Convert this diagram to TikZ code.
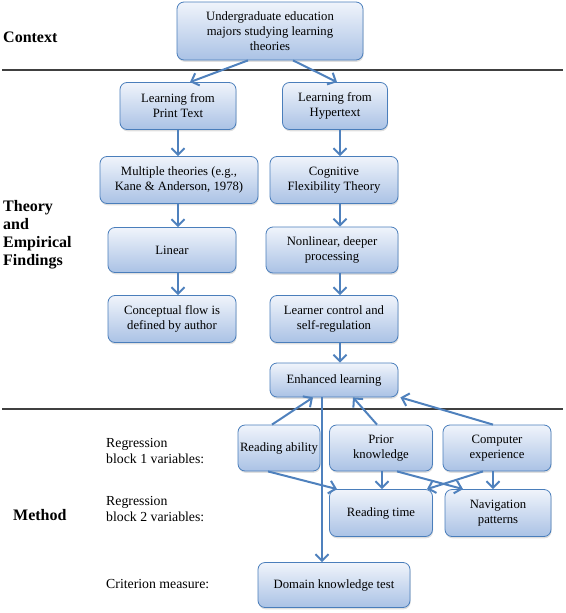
\documentclass[tikz,border=0pt]{standalone}
\usepackage{fontspec}
\setmainfont{Liberation Serif}
\usetikzlibrary{arrows.meta,shadows}
\definecolor{bordc}{HTML}{4A7EBB}
\definecolor{arrc}{HTML}{4F81BD}
\definecolor{topc}{HTML}{F0F4FB}
\definecolor{botc}{HTML}{AAC2E5}
\begin{document}
\begin{tikzpicture}[x=1pt,y=-1pt,
  box/.style={draw=bordc, line width=0.8pt, rounded corners=7pt, top color=topc, bottom color=botc,
    align=center, font=\fontsize{12.7}{15}\selectfont, inner sep=2pt,
    drop shadow={shadow xshift=0.6pt, shadow yshift=-1.8pt, opacity=0.25}},
  sz/.style 2 args={minimum width=#1, minimum height=#2},
  arr/.style={draw=arrc, line width=2pt, -{Straight Barb[length=6.5pt,width=13pt,line width=2pt]}},
  lab/.style={anchor=west, align=left, inner sep=0pt, font=\fontsize{13.8}{16}\selectfont},
  head/.style={anchor=west, align=left, inner sep=0pt, font=\bfseries\fontsize{16}{18}\selectfont},
  sep/.style={draw=black!75, line width=2.5pt}]
\useasboundingbox (0,0) rectangle (565,613);

% separators
\coordinate (l1a) at (2,70); \coordinate (l1b) at (563,70);
\coordinate (l2a) at (2,409); \coordinate (l2b) at (563,409);
\draw[sep] (l1a) -- (l1b);
\draw[sep] (l2a) -- (l2b);

% section headings
\node[head] (hctx) at (3,37) {Context};
\node[head] (hthe) at (3,235) {Theory\\and\\Empirical\\Findings};
\node[head] (hmet) at (13,515) {Method};

% method labels
\node[lab] (lb1) at (106,451) {Regression\\block 1 variables:};
\node[lab] (lb2) at (106,509) {Regression\\block 2 variables:};
\node[lab] (lb3) at (106,584) {Criterion measure:};

% boxes
\node[box, sz={186pt}{58pt}] (top) at (270,31) {Undergraduate education\\majors studying learning\\theories};
\node[box, sz={116pt}{47pt}] (p1) at (178,106) {Learning from\\Print Text};
\node[box, sz={158pt}{47pt}] (p2) at (179,180) {Multiple theories (e.g.,\\Kane \& Anderson, 1978)};
\node[box, sz={128pt}{45pt}] (p3) at (172,250) {Linear};
\node[box, sz={128pt}{47pt}] (p4) at (172,319) {Conceptual flow is\\defined by author};
\node[box, sz={105pt}{47pt}] (h1) at (335,106) {Learning from\\Hypertext};
\node[box, sz={128pt}{47pt}] (h2) at (334,180) {Cognitive\\Flexibility Theory};
\node[box, sz={132pt}{46pt}] (h3) at (332,250) {Nonlinear, deeper\\processing};
\node[box, sz={128pt}{47pt}] (h4) at (334,319) {Learner control and\\self-regulation};
\node[box, sz={128pt}{34pt}] (en) at (334,380) {Enhanced learning};
\node[box, sz={78pt}{46pt}] (ra) at (279,448) {Reading ability};
\node[box, sz={103pt}{46pt}] (pk) at (381,448) {Prior\\knowledge};
\node[box, sz={108pt}{46pt}] (ce) at (497,448) {Computer\\experience};
\node[box, sz={103pt}{47pt}] (rt) at (381,513) {Reading time};
\node[box, sz={106pt}{47pt}] (np) at (498,513) {Navigation\\patterns};
\node[box, sz={152pt}{45pt}] (dk) at (334,585) {Domain knowledge test};

% connectors
\draw[arr] ([xshift=-22pt]top.south) -- ([xshift=12pt]p1.north);
\draw[arr] ([xshift=23pt]top.south) -- ([xshift=2pt]h1.north);

\draw[arr] (p1.south) -- (p1.south |- p2.north);
\draw[arr] (p1.south |- p2.south) -- (p1.south |- p3.north);
\draw[arr] (p1.south |- p3.south) -- (p1.south |- p4.north);

\draw[arr] ([xshift=5pt]h1.south) -- ([xshift=5pt]h1.south |- h2.north);
\draw[arr] ([xshift=5pt]h1.south |- h2.south) -- ([xshift=5pt]h1.south |- h3.north);
\draw[arr] ([xshift=5pt]h1.south |- h3.south) -- ([xshift=5pt]h1.south |- h4.north);
\draw[arr] ([xshift=5pt]h1.south |- h4.south) -- ([xshift=5pt]h1.south |- en.north);

\coordinate (vx) at (322,0);
\draw[arr] (en.south -| vx) -- (dk.north -| vx);

\draw[arr] ([xshift=-7pt]ra.north) -- ([xshift=-21pt]en.south);
\draw[arr] ([xshift=-4pt]pk.north) -- ([xshift=19pt]en.south);
\draw[arr] ([xshift=-4pt]ce.north) -- ([xshift=2pt]en.south east);

\draw[arr] ([xshift=-11pt]ra.south) -- ([xshift=-44pt]rt.north);
\draw[arr] ([xshift=1pt]pk.south) -- ([xshift=1pt]rt.north);
\draw[arr] ([xshift=16pt]pk.south) -- ([xshift=-35pt]np.north);
\draw[arr] ([xshift=-14pt]ce.south) -- ([xshift=46pt]rt.north);
\draw[arr] ([xshift=-4pt]ce.south) -- ([xshift=-4pt]ce.south |- np.north);
\end{tikzpicture}
\end{document}
